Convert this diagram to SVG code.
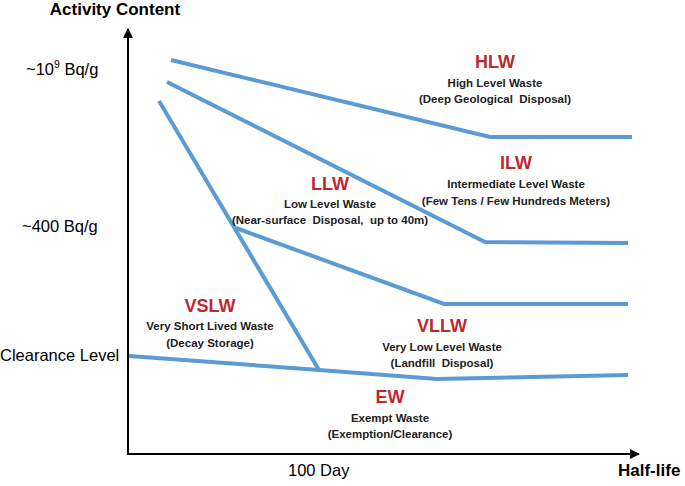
<svg xmlns="http://www.w3.org/2000/svg" width="685" height="486" viewBox="0 0 685 486">
<defs>
<style>
.ax{stroke:#000;stroke-width:2;fill:none}
.ln{stroke:#5B9BD5;stroke-width:4;fill:none;stroke-linejoin:miter}
.tk{font-family:"Liberation Sans",Arial,sans-serif;font-size:16.5px;fill:#000}
.ttl{font-family:"Liberation Sans",Arial,sans-serif;font-size:17px;font-weight:bold;fill:#000}
.cat{font-family:"Liberation Sans",Arial,sans-serif;font-size:18px;font-weight:bold;fill:#C0282D;text-anchor:middle}
.sub{font-family:"Liberation Sans",Arial,sans-serif;font-size:11.5px;font-weight:bold;fill:#222;text-anchor:middle;white-space:pre}
</style>
<marker id="arr" viewBox="0 0 10 10" refX="9" refY="5" markerWidth="5" markerHeight="5" orient="auto" markerUnits="strokeWidth">
<path d="M0,0 L10,5 L0,10 z" fill="#000"/>
</marker>
</defs>
<rect width="685" height="486" fill="#fff"/>
<g id="axes">
<line class="ax" x1="128" y1="455" x2="128" y2="29" marker-end="url(#arr)"/>
<line class="ax" x1="127" y1="454" x2="639" y2="454" marker-end="url(#arr)"/>
<text class="ttl" x="115" y="15" text-anchor="middle">Activity Content</text>
<text class="tk" x="26" y="75">~10<tspan font-size="10.5" dy="-7">9</tspan><tspan dy="7"> Bq/g</tspan></text>
<text class="tk" x="22" y="232">~400 Bq/g</text>
<text class="tk" x="0" y="361">Clearance Level</text>
<text class="tk" x="288" y="476">100 Day</text>
<text class="ttl" x="618" y="476" font-size="18">Half-life</text>
</g>
<g id="connectors">
<polyline class="ln" points="171,60 490,137 632,137"/>
<polyline class="ln" points="167,82 485,242 628,243"/>
<polyline class="ln" points="159,101 319,370"/>
<polyline class="ln" points="236,228 444,304 628,304"/>
<polyline class="ln" points="129,356 319,370 437,379 628,375"/>
</g>
<g id="HLW">
<text class="cat" x="495" y="68">HLW</text>
<text class="sub" x="495" y="87">High Level Waste</text>
<text class="sub" x="495" y="103">(Deep Geological  Disposal)</text>
</g>
<g id="ILW">
<text class="cat" x="516" y="169">ILW</text>
<text class="sub" x="516" y="188">Intermediate Level Waste</text>
<text class="sub" x="516" y="205">(Few Tens / Few Hundreds Meters)</text>
</g>
<g id="LLW">
<text class="cat" x="330" y="190">LLW</text>
<text class="sub" x="330" y="208">Low Level Waste</text>
<text class="sub" x="330" y="224">(Near-surface  Disposal,  up to 40m)</text>
</g>
<g id="VSLW">
<text class="cat" x="210" y="312">VSLW</text>
<text class="sub" x="210" y="330">Very Short Lived Waste</text>
<text class="sub" x="210" y="347">(Decay Storage)</text>
</g>
<g id="VLLW">
<text class="cat" x="442" y="332">VLLW</text>
<text class="sub" x="442" y="351">Very Low Level Waste</text>
<text class="sub" x="442" y="367">(Landfill  Disposal)</text>
</g>
<g id="EW">
<text class="cat" x="390" y="403">EW</text>
<text class="sub" x="390" y="422">Exempt Waste</text>
<text class="sub" x="390" y="438">(Exemption/Clearance)</text>
</g>
</svg>
